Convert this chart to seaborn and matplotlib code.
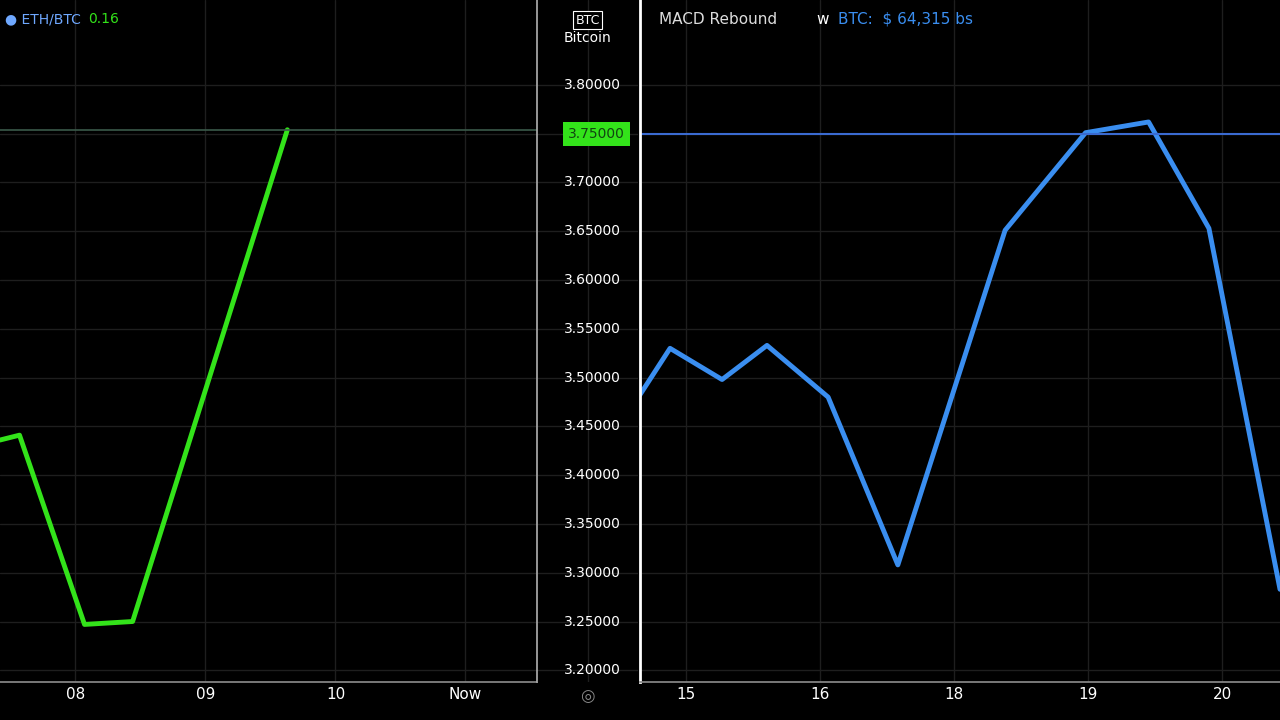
import matplotlib
matplotlib.use("Agg")
import matplotlib.pyplot as plt
import matplotlib.transforms as mtrans
import seaborn as sns
import pandas as pd

sns.set_theme(style="dark")
plt.rcParams['font.family'] = ['DejaVu Sans']

# data
left_x = [7.42, 7.57, 8.07, 8.44, 9.63]
left_y = [3.436, 3.441, 3.247, 3.250, 3.754]
left_ticks = [8, 9, 10, 11]
left_labels = ["08", "09", "10", "Now"]
left_level = 3.754

right_x = [-0.345, -0.119, 0.269, 0.604, 1.06, 1.58, 2.38, 2.98, 3.45, 3.90, 4.43]
right_y = [3.482, 3.530, 3.498, 3.533, 3.480, 3.308, 3.651, 3.751, 3.762, 3.653, 3.283]
right_ticks = [0, 1, 2, 3, 4]
right_labels = ["15", "16", "18", "19", "20"]
right_level = 3.750

ytick_vals = [3.80, 3.75, 3.70, 3.65, 3.60, 3.55, 3.50, 3.45, 3.40, 3.35, 3.30, 3.25, 3.20]
ytick_labels = ["3.80000", "3.75000", "3.70000", "3.65000", "3.60000", "3.55000", "3.50000",
                "3.45000", "3.40000", "3.35000", "3.30000", "3.25000", "3.20000"]
highlight = "3.75000"

YLIM = (3.188, 3.887)
fig = plt.figure(figsize=(12.8, 7.2), dpi=100, facecolor="black")
b, h = 38/720, 682/720
axL = fig.add_axes([0, b, 537/1280, h])
axM = fig.add_axes([537/1280, b, 101/1280, h])
axR = fig.add_axes([640/1280, b, 640/1280, h])
grid = "#1e1e1e"
for ax in (axL, axM, axR):
    ax.set_facecolor("black")
    ax.set_ylim(*YLIM)
    for s in ax.spines.values():
        s.set_visible(False)
    ax.set_yticks(ytick_vals)
    ax.grid(True, color=grid, lw=1)
    ax.tick_params(colors="white", length=0)
    ax.set_xlabel(""); ax.set_ylabel("")

sns.lineplot(x=left_x, y=left_y, ax=axL, color="#33e31a", lw=3.5)
axL.axhline(left_level, color="#3a5a4a", lw=1.2)
axL.set_xlim(7.42, 11.55)
axL.set_xticks(left_ticks); axL.set_xticklabels(left_labels, color="white", fontsize=11)
axL.set_yticklabels([])
axL.spines["bottom"].set_visible(True); axL.spines["bottom"].set_color("#888")
axL.text(0.01, 0.972, "● ETH/BTC", color="#6fa8ff", fontsize=10, transform=axL.transAxes, va="center")
axL.text(0.165, 0.972, "0.16", color="#33e31a", fontsize=10, transform=axL.transAxes, va="center")

sns.lineplot(x=right_x, y=right_y, ax=axR, color="#3a8ef0", lw=3.5)
axR.axhline(right_level, color="#3a6ad0", lw=1.5)
axR.set_xlim(-0.343, 4.43)
axR.set_xticks(right_ticks); axR.set_xticklabels(right_labels, color="white", fontsize=11)
axR.set_yticklabels([])
axR.spines["left"].set_visible(True); axR.spines["left"].set_color("white"); axR.spines["left"].set_linewidth(2)
axR.spines["bottom"].set_visible(True); axR.spines["bottom"].set_color("#888")
axR.text(0.03, 0.972, "MACD Rebound", color="#dddddd", fontsize=11, transform=axR.transAxes, va="center")
axR.text(0.275, 0.972, "w", color="white", fontsize=11, transform=axR.transAxes, va="center")
axR.text(0.31, 0.972, "BTC:  $ 64,315 bs", color="#3a8ef0", fontsize=11, transform=axR.transAxes, va="center")

axM.set_xlim(0, 1); axM.set_xticks([0.5]); axM.set_xticklabels(["◎"], color="#888", fontsize=12)
axM.set_yticklabels([])
axM.spines["left"].set_visible(True); axM.spines["left"].set_color("#aaa")
tr = mtrans.blended_transform_factory(axM.transAxes, axM.transData)
for v, lab in zip(ytick_vals, ytick_labels):
    if lab == highlight:
        axM.text(0.87, v, lab, color="#114411", fontsize=10, ha="right", va="center", transform=tr,
                 bbox=dict(boxstyle="square,pad=0.35", fc="#33e31a", ec="none"))
    else:
        axM.text(0.83, v, lab, color="white", fontsize=10, ha="right", va="center", transform=tr)
axM.text(0.5, 0.97, "BTC", color="white", fontsize=9, ha="center", va="center", transform=axM.transAxes,
         bbox=dict(boxstyle="square,pad=0.2", fc="black", ec="white", lw=0.8))
axM.text(0.5, 0.945, "Bitcoin", color="white", fontsize=10, ha="center", va="center", transform=axM.transAxes)

fig.savefig("out.png", dpi=100, facecolor="black")
